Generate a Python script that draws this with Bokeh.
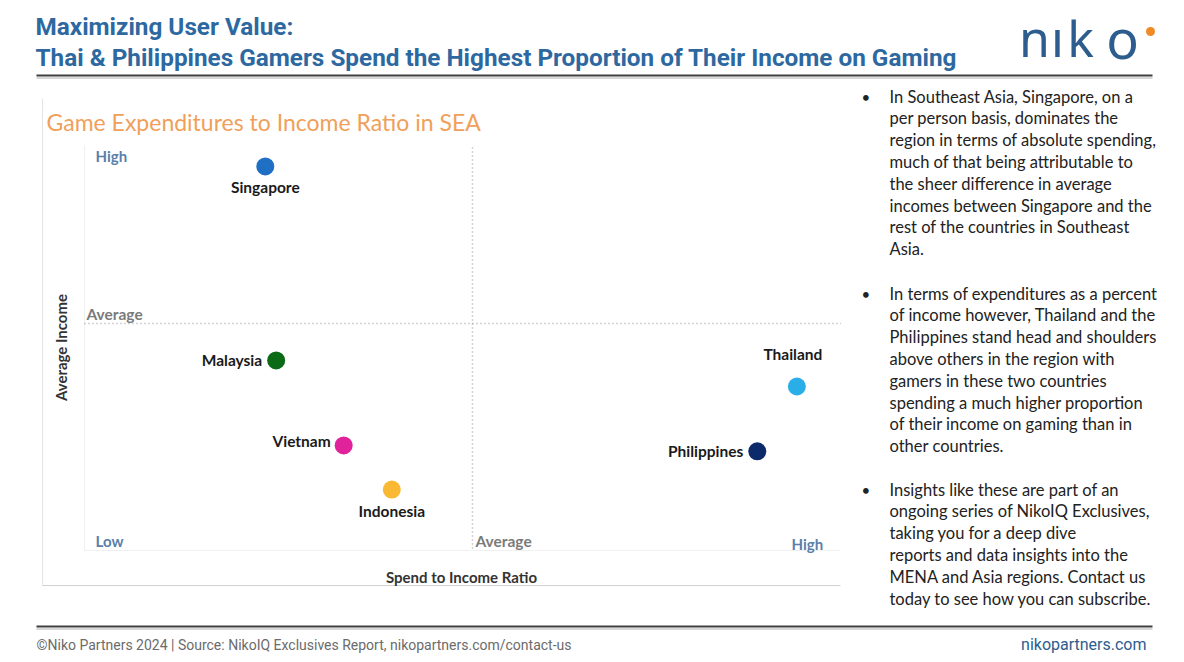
from math import pi
from bokeh.plotting import figure
from bokeh.models import Range1d, Label, ColumnDataSource
from bokeh.core.properties import value
from bokeh.embed import file_html
from bokeh.resources import INLINE

# ---------------- data ----------------
countries = ["Singapore", "Malaysia", "Vietnam", "Indonesia", "Thailand", "Philippines"]
spend_ratio = [2.33, 2.47, 3.34, 3.96, 9.18, 8.67]      # 0-10 relative scale, 5 = average
avg_income = [8.49, 4.18, 2.29, 1.31, 3.60, 2.16]       # 0-10 relative scale, 5 = average
colors = ["#1f6fc5", "#0b6a15", "#e0229b", "#f9b935", "#2aaee8", "#0c2a6a"]
x_average = 5.0
y_average = 5.0
x_max = 9.75
y_max = 8.98

# label placement (pixels) relative to the dot
lab_dx = [0, -14, -13, 0, -4, -14]
lab_dy = [-21, 0, 4, -21, 33, 0]
lab_align = ["center", "right", "right", "center", "center", "right"]

bullets = [
    ["In Southeast Asia, Singapore, on a",
     "per person basis, dominates the",
     "region in terms of absolute spending,",
     "much of that being attributable to",
     "the sheer difference in average",
     "incomes between Singapore and the",
     "rest of the countries in Southeast",
     "Asia."],
    ["In terms of expenditures as a percent",
     "of income however, Thailand and the",
     "Philippines stand head and shoulders",
     "above others in the region with",
     "gamers in these two countries",
     "spending a much higher proportion",
     "of their income on gaming than in",
     "other countries."],
    ["Insights like these are part of an",
     "ongoing series of NikoIQ Exclusives,",
     "taking you for a deep dive",
     "reports and data insights into the",
     "MENA and Asia regions. Contact us",
     "today to see how you can subscribe."],
]

# ---------------- page geometry ----------------
W, H = 1184, 662
OX, SX = 84.0, 77.6     # pixel x of data 0, pixels per unit
OY, SY = 548.0, 45.0    # pixel y of data 0, pixels per unit


def X(px):
    return (px - OX) / SX


def Y(py):
    return (OY - py) / SY


p = figure(width=W, height=H, output_backend="svg", toolbar_location=None,
           x_range=Range1d(X(0), X(W)), y_range=Range1d(Y(H), Y(0)),
           x_axis_type=None, y_axis_type=None, min_border=0,
           background_fill_color="white", border_fill_color="white")
p.grid.visible = False
p.outline_line_color = None


def label(px, py, text, size, color, font="Lato", style="normal", align="left",
          baseline="middle", angle=0):
    p.add_layout(Label(x=X(px), y=Y(py), text=text, text_font=font,
                       text_font_size=f"{size}px", text_color=color,
                       text_font_style=style, text_align=align,
                       text_baseline=baseline, angle=angle))


def seg(x0, y0, x1, y1, color, width=1, dash="solid"):
    p.segment(x0=[X(x0)], y0=[Y(y0)], x1=[X(x1)], y1=[Y(y1)],
              line_color=color, line_width=width, line_dash=dash)


# header
TITLE_C = "#2d69a0"
label(35, 26, "Maximizing User Value:", 24.3, TITLE_C, font="Roboto", style="bold")
label(35, 57, "Thai & Philippines Gamers Spend the Highest Proportion of Their Income on Gaming",
      24.3, TITLE_C, font="Roboto", style="bold")
LOGO_C = "#2d5c8e"
for ch, px, sz in zip(["n", "\u0131", "k", "o"], [1034, 1057, 1080, 1122], [50, 50, 50, 54]):
    label(px, 37, ch, sz, LOGO_C, font="Noto Sans", align="center", baseline="middle")
p.scatter(x=[X(1150)], y=[Y(31)], size=9, color="#f08a24", line_color=None)

seg(36, 75, 1152, 75, "#3f3f3f", 2)
seg(36, 77.5, 1152, 77.5, "#b0b0b0", 1)

# footer
seg(36, 626, 1152, 626, "#3f3f3f", 2)
seg(36, 628.5, 1152, 628.5, "#b0b0b0", 1)
label(36, 644, "\u00a9Niko Partners 2024  |  Source: NikoIQ Exclusives Report,  nikopartners.com/contact-us",
      14, "#6b6b6b", font="Roboto")
label(1146, 644, "nikopartners.com", 16, LOGO_C, font="Roboto", align="right")

# chart frame
seg(42, 98, 42, 585, "#e4e4e4", 1)
seg(42, 585, 840, 585, "#d0d0d0", 1)
seg(84, 145, 84, 550, "#f0f0f0", 1)
seg(84, 550, 840, 550, "#f0f0f0", 1)

label(46, 121, "Game Expenditures to Income Ratio in SEA", 23, "#f0a05a", font="Lato")

# quadrant dividers
p.segment(x0=[x_average], y0=[0], x1=[x_average], y1=[y_max],
          line_color="#a8a8a8", line_width=1.5, line_dash="1 3")
p.segment(x0=[0], y0=[y_average], x1=[x_max], y1=[y_average],
          line_color="#a8a8a8", line_width=1.5, line_dash="1 3")

# corner labels
HL = "#5a7fa8"
label(95, 155, "High", 15, HL, style="bold")
label(86, 313, "Average", 15.5, "#7a7a7a", style="bold")
label(95, 540, "Low", 15, HL, style="bold")
label(475, 540, "Average", 15.5, "#7a7a7a", style="bold")
label(791, 543, "High", 15, HL, style="bold")

# axis titles
label(60, 347, "Average Income", 15, "#333333", style="bold", align="center", angle=pi / 2)
label(461, 576, "Spend to Income Ratio", 15, "#333333", style="bold", align="center")

# points
src = ColumnDataSource(dict(x=spend_ratio, y=avg_income, c=colors))
p.scatter(x="x", y="y", source=src, size=18, fill_color="c", line_color=None)
for i in range(len(countries)):
    p.text(x=[spend_ratio[i]], y=[avg_income[i]], text=[countries[i]],
           x_offset=lab_dx[i], y_offset=-lab_dy[i],
           text_align=lab_align[i], text_baseline="middle",
           text_font=value("Lato"), text_font_style="bold", text_font_size="15.5px",
           text_color="#1a1a1a")

# bullets
line_h = 21.8
starts = [96, 293, 489]
for para, y0 in zip(bullets, starts):
    label(861, y0, "\u2022", 15, "#222222", font="Lato")
    for k, line in enumerate(para):
        label(889, y0 + k * line_h, line, 16.5, "#222222", font="Lato")

open("out.html", "w").write(file_html(p, INLINE))
